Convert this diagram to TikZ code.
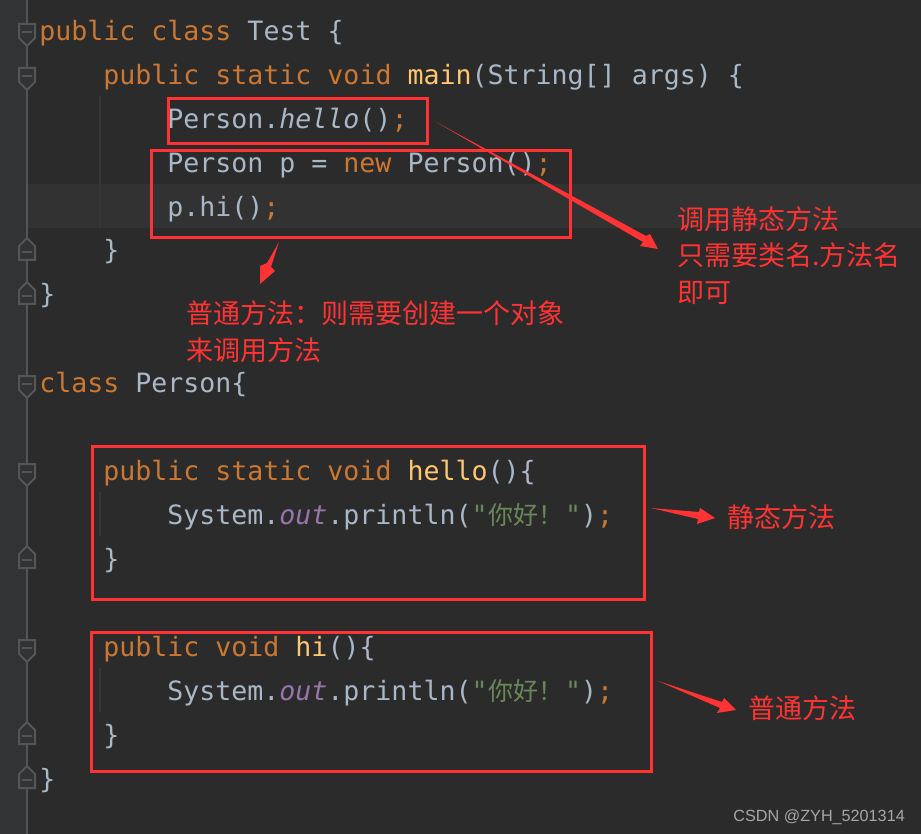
\documentclass[tikz,border=0pt]{standalone}
\usepackage{fontspec}
\newfontfamily\codefont{DejaVu Sans Mono}
\newfontfamily\cjkfont{Noto Sans CJK SC}
\newfontfamily\wmfont{Liberation Sans}
\definecolor{bgc}{HTML}{2B2B2B}
\definecolor{gutterc}{HTML}{313335}
\definecolor{foldc}{HTML}{555555}
\definecolor{guidec}{HTML}{373737}
\definecolor{curc}{HTML}{323232}
\definecolor{kwc}{HTML}{CC7832}
\definecolor{txc}{HTML}{A9B7C6}
\definecolor{fnc}{HTML}{FFC66D}
\definecolor{fieldc}{HTML}{9876AA}
\definecolor{strc}{HTML}{6A8759}
\definecolor{redc}{HTML}{FF3333}
\newcommand{\kw}[1]{\textcolor{kwc}{#1}}
\newcommand{\fn}[1]{\textcolor{fnc}{#1}}
\newcommand{\fld}[1]{\textcolor{fieldc}{\itshape #1}}
\newcommand{\str}[1]{\textcolor{strc}{#1}}
\tikzset{
  codeline/.style={anchor=base west,inner sep=0pt,outer sep=0pt,text=txc,font=\codefont\fontsize{26.6}{30}\selectfont},
  cjkcode/.style={anchor=base west,inner sep=0pt,outer sep=0pt,text=strc,font=\cjkfont\fontsize{25}{30}\selectfont},
  redbox/.style={draw=redc,line width=3pt,anchor=north west,inner sep=0pt,outer sep=0pt},
  redtext/.style={anchor=north west,inner sep=0pt,outer sep=0pt,text=redc,align=left,font=\cjkfont\fontsize{27}{36.4}\selectfont},
  redarrow/.style={fill=redc,draw=none},
  guide/.style={draw=guidec,line width=1.5pt},
  foldmark/.style={draw=foldc,fill=gutterc,line width=2pt,line join=miter},
  foldminus/.style={draw=foldc,line width=2pt}
}
\newcommand{\foldopen}[1]{%
  \path[foldmark] (19,#1) -- (35,#1) -- (35,#1+14) -- (27,#1+22) -- (19,#1+14) -- cycle;
  \path[foldminus] (22,#1+8) -- (32,#1+8);}
\newcommand{\foldclose}[1]{%
  \path[foldmark] (27,#1) -- (35,#1+8) -- (35,#1+22) -- (19,#1+22) -- (19,#1+8) -- cycle;
  \path[foldminus] (22,#1+14) -- (32,#1+14);}
\begin{document}
\begin{tikzpicture}[x=1pt,y=-1pt]
\useasboundingbox (0,0) rectangle (921,834);
\fill[bgc] (0,0) rectangle (921,834);
\fill[gutterc] (0,0) rectangle (27,834);
\fill[curc] (28,184) rectangle (921,228);
% gutter
\draw[foldc,line width=2.5pt] (27,0) -- (27,834);
\foldopen{24}\foldopen{68}\foldclose{238}\foldclose{282}
\foldopen{376}\foldopen{464}\foldclose{546}\foldopen{640}\foldclose{722}\foldclose{766}
% indent guides
\draw[guide] (100,96) -- (100,228);
\draw[guide] (100,492) -- (100,536);
\draw[guide] (100,668) -- (100,712);
% code
\node[codeline] (c1) at (39.3,40.5) {\kw{public class} Test \{};
\node[codeline] (c2) at (103.3,84.5) {\kw{public static void} \fn{main}(String[] args) \{};
\node[codeline] (c3) at (167.3,128.5) {Person.{\itshape hello}()\kw{;}};
\node[codeline] (c4) at (167.3,172.5) {Person p = \kw{new} Person()\kw{;}};
\node[codeline] (c5) at (167.3,216.5) {p.hi()\kw{;}};
\node[codeline] (c6) at (103.3,260) {\}};
\node[codeline] (c7) at (39.3,304) {\}};
\node[codeline] (c9) at (39.3,392.5) {\kw{class} Person\{};
\node[codeline] (c11) at (103.3,480.5) {\kw{public static void} \fn{hello}()\{};
\node[codeline] (c12) at (167.3,524.5) {System.\fld{out}.println(\str{"}};
\node[cjkcode] (c12z) at (488,524.5) {你好！};
\node[codeline] (c12e) at (549,524.5) {\str{~"})\kw{;}};
\node[codeline] (c13) at (103.3,568) {\}};
\node[codeline] (c15) at (103.3,656.5) {\kw{public void} \fn{hi}()\{};
\node[codeline] (c16) at (167.3,700.5) {System.\fld{out}.println(\str{"}};
\node[cjkcode] (c16z) at (488,700.5) {你好！};
\node[codeline] (c16e) at (549,700.5) {\str{~"})\kw{;}};
\node[codeline] (c17) at (103.3,744) {\}};
\node[codeline] (c18) at (39.3,788) {\}};
% red boxes
\node[redbox,minimum width=259pt,minimum height=45pt] (boxA) at (168.5,98.5) {};
\node[redbox,minimum width=419pt,minimum height=87pt] (boxB) at (151.5,150.5) {};
\node[redbox,minimum width=552pt,minimum height=153pt] (boxC) at (92.5,446.5) {};
\node[redbox,minimum width=560pt,minimum height=139pt] (boxD) at (91.5,632.5) {};
% arrows
\coordinate (a1t) at (436,122); \coordinate (a1h) at (658,249);
\coordinate (a2t) at (279,242); \coordinate (a2h) at (260,284);
\coordinate (a3t) at (651,508); \coordinate (a3h) at (715,518);
\coordinate (a4t) at (658,681); \coordinate (a4h) at (736,710);
\path[redarrow] (a1t) -- (646,236) -- (650,234) -- (a1h) -- (640,246) -- (643,242) -- cycle;
\path[redarrow] (a2t) -- (267,263) -- (260,266) -- (a2h) -- (275,271) -- (271,267) -- cycle;
\path[redarrow] (a3t) -- (699,512) -- (700,508) -- (a3h) -- (697,524) -- (698,519) -- cycle;
\path[redarrow] (a4t) -- (722,702) -- (724,698) -- (a4h) -- (717,713) -- (720,708) -- cycle;
% labels
\node[redtext] (t1) at (677,206.5) {调用静态方法\\只需要类名.方法名\\即可};
\node[redtext] (t2) at (186,301) {普通方法：则需要创建一个对象\\来调用方法};
\node[redtext] (t3) at (727,505) {静态方法};
\node[redtext] (t4) at (748,696) {普通方法};
\node[anchor=base east,inner sep=0pt,text=black!35,font=\wmfont\fontsize{16.2}{20}\selectfont] (wm) at (905,821) {CSDN @ZYH\_5201314};
\end{tikzpicture}
\end{document}
